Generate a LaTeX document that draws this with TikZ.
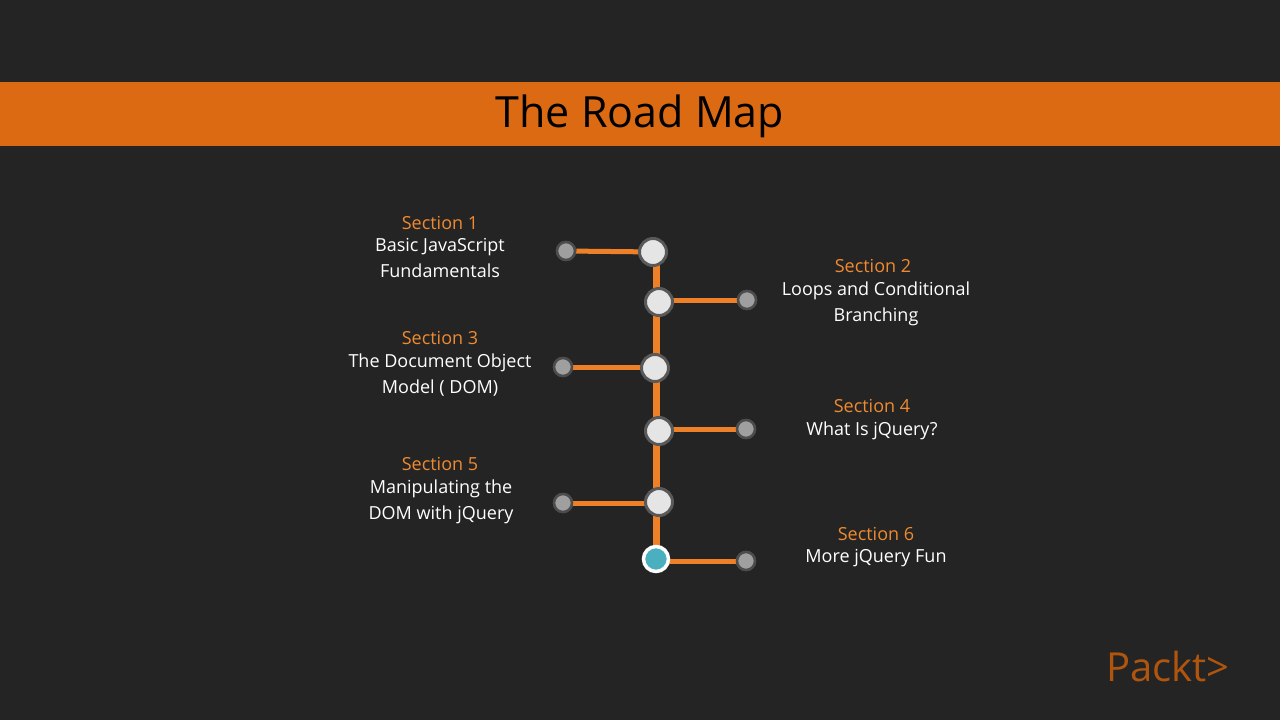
\documentclass[tikz,border=0pt]{standalone}
\usepackage{fontspec}
\setmainfont{Open Sans}
\definecolor{bg}{HTML}{242424}
\definecolor{org}{HTML}{DC6A12}
\definecolor{lorg}{HTML}{F08A30}
\definecolor{line}{HTML}{EE8127}
\definecolor{teal}{HTML}{4AAFBE}
\begin{document}
\begin{tikzpicture}[x=1pt,y=-1pt,
 big/.style={circle,fill=white!90!black,draw=black!65,line width=3pt,minimum size=27pt,inner sep=0},
 cur/.style={circle,fill=teal,draw=white,line width=3.5pt,minimum size=25pt,inner sep=0},
 small/.style={circle,fill=gray!75,draw=black!70,line width=2.5pt,minimum size=18pt,inner sep=0},
 sec/.style={text=lorg,font=\fontsize{18}{20}\selectfont},
 lab/.style={text=white,font=\fontsize{18}{26}\selectfont,align=center},
 road/.style={line,line width=7pt},
 branch/.style={line,line width=5pt}]
\fill[bg] (0,0) rectangle (1280,720);
\useasboundingbox (0,0) rectangle (1280,720);
\fill[org] (0,82) rectangle (1280,146);
\node[font=\fontsize{43}{46}\selectfont,text=black] (title) at (640,116) {The Road Map};
\coordinate (top) at (656,252);
\coordinate (bot) at (656,559);
\node[small] (s1) at (566,251) {};
\node[small] (s2) at (747,300) {};
\node[small] (s3) at (563,367) {};
\node[small] (s4) at (746,429) {};
\node[small] (s5) at (563,503) {};
\node[small] (s6) at (746,561) {};
\draw[road] (top) -- (bot);
\draw[branch] (s1) -- (top);
\draw[branch] (s2) -- (656,300);
\draw[branch] (s3) -- (656,367);
\draw[branch] (s4) -- (656,429);
\draw[branch] (s5) -- (656,503);
\draw[branch] (s6) -- (656,561);
\node[big] (b1) at (653,252) {};
\node[big] (b2) at (659,302) {};
\node[big] (b3) at (655,368) {};
\node[big] (b4) at (659,431) {};
\node[big] (b5) at (659,502) {};
\node[cur] (b6) at (656,559) {};
\foreach \n in {s1,s2,s3,s4,s5,s6} \node[small] at (\n) {};
\node[sec] (t1) at (440,223) {Section 1};
\node[lab,anchor=north] (l1) at (440,235) {Basic JavaScript\\Fundamentals};
\node[sec] (t2) at (873,266) {Section 2};
\node[lab,anchor=north] (l2) at (876,278) {Loops and Conditional\\Branching};
\node[sec] (t3) at (440,338) {Section 3};
\node[lab,anchor=north] (l3) at (440,350) {The Document Object\\Model ( DOM)};
\node[sec] (t4) at (872,406) {Section 4};
\node[lab,anchor=north] (l4) at (872,418) {What Is jQuery?};
\node[sec] (t5) at (440,464) {Section 5};
\node[lab,anchor=north] (l5) at (441,476) {Manipulating the\\DOM with jQuery};
\node[sec] (t6) at (876,534) {Section 6};
\node[lab,anchor=north] (l6) at (876,546) {More jQuery Fun};
\node[text=org!80!black,font=\fontsize{40}{44}\selectfont] (logo) at (1168,666) {Packt>};
\end{tikzpicture}
\end{document}
